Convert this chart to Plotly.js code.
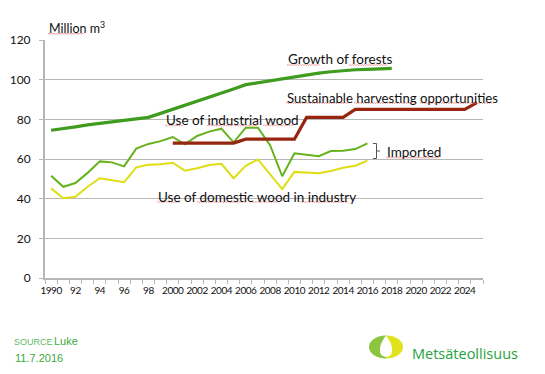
<!DOCTYPE html>
<html>
<head>
<meta charset="utf-8">
<script src="https://cdn.plot.ly/plotly-3.0.1.min.js"></script>
<style>html,body{margin:0;padding:0;background:#fff;}#chart{width:545px;height:374px;}
.xtick text{letter-spacing:-0.45px;}</style>
</head>
<body>
<div id="chart"></div>
<script>
// ---- data ----
const growthYears = [1990,1991,1992,1993,1994,1995,1996,1997,1998,1999,2000,2001,2002,2003,2004,2005,2006,2007,2008,2009,2010,2011,2012,2013,2014,2015,2016,2017,2018];
const growthOfForests = [74.5,75.2,76.2,77.2,78,78.6,79.2,80,81,83,85,87.2,89.2,91.2,93.2,95.3,97.5,98.5,99.3,100.3,101.3,102.3,103.3,104,104.6,105,105.2,105.6,105.7];

const useYears = [1990,1991,1992,1993,1994,1995,1996,1997,1998,1999,2000,2001,2002,2003,2004,2005,2006,2007,2008,2009,2010,2011,2012,2013,2014,2015,2016];
const industrialWood = [51.6,46,47.9,53,58.8,58.3,56.3,65.2,67.6,69,71.1,67.4,71.6,73.8,75.3,68.4,75.8,75.8,67,51.3,62.9,62,61.4,64,64.2,65,67.9];
const domesticWood = [45.2,40.2,41,46,50.3,49.3,48.3,55.8,57.1,57.3,58.1,54.1,55.3,57,57.6,50.3,56.6,59.8,52.3,44.8,53.5,53.2,52.8,54,55.6,56.6,59.2];

const harvestYears = [2000,2001,2002,2003,2004,2005,2006,2007,2008,2009,2010,2011,2012,2013,2014,2015,2016,2017,2018,2019,2020,2021,2022,2023,2024,2025];
const sustainableHarvest = [68,68,68,68,68,68,70,70,70,70,70,81,81,81,81,85,85,85,85,85,85,85,85,85,85,88.4];

const tickYears = [1990,1992,1994,1996,1998,2000,2002,2004,2006,2008,2010,2012,2014,2016,2018,2020,2022,2024];
const tickLabels = ['1990','92','94','96','98','2000','2002','2004','2006','2008','2010','2012','2014','2016','2018','2020','2022','2024'];

// ---- layout helpers (pixel -> paper for decorations) ----
const L = 45, R = 483, T = 40, B = 278;
const px = x => (x - L) / (R - L);
const py = y => (B - y) / (B - T);
function pathPx(cmds) {
  return cmds.map(c => c[0] + ' ' + c.slice(1).map((v,i) => i % 2 === 0 ? px(v).toFixed(5) : py(v).toFixed(5)).join(',')).join(' ');
}

const FONT = 'Lato, "Open Sans", sans-serif';

const traces = [
  {x: useYears, y: domesticWood, type: 'scatter', mode: 'lines', line: {color: '#dede12', width: 2}, hoverinfo: 'skip'},
  {x: useYears, y: industrialWood, type: 'scatter', mode: 'lines', line: {color: '#66b21c', width: 2}, hoverinfo: 'skip'},
  {x: growthYears, y: growthOfForests, type: 'scatter', mode: 'lines', line: {color: '#3f9c1f', width: 3.2}, hoverinfo: 'skip'},
  {x: harvestYears, y: sustainableHarvest, type: 'scatter', mode: 'lines', line: {color: '#962610', width: 3.2}, hoverinfo: 'skip'}
];

function ann(text, x, y, size, opts) {
  return Object.assign({text: text, x: px(x), y: py(y), xref: 'paper', yref: 'paper', showarrow: false,
    xanchor: 'left', yanchor: 'middle', font: {family: FONT, size: size, color: '#111'}}, opts || {});
}

const FOOT = '"Liberation Sans", Arial, sans-serif';
const annotations = [
  ann('Million m<sup>3</sup>', 47, 28, 12.5),
  ann('Growth of forests', 286, 59.3, 13.5),
  ann('Sustainable harvesting opportunities', 285, 97.7, 13.2),
  ann('Use of industrial wood', 164, 120, 13.5),
  ann('Imported', 385, 151.7, 13.5),
  ann('Use of domestic wood in industry', 156, 196.7, 13.5),
  ann('SOURCE', 12, 341.5, 9, {font: {family: FOOT, size: 9, color: '#62b962'}}),
  ann('Luke', 52, 341, 11, {font: {family: FOOT, size: 11, color: '#3aab3a'}}),
  ann('11.7.2016', 13, 358, 11, {font: {family: FOOT, size: 11, color: '#3aab3a'}}),
  ann('Metsäteollisuus', 410, 353, 14.5, {font: {family: '"Open Sans", sans-serif', size: 14.5, color: '#1ea33c'}})
];

// logo: green left crescent, yellow right crescent, white drop in middle
const cx = 386, cy = 347, rx = 17, ry = 11.5;
function ellipseHalf(side) {
  const pts = [];
  for (let i = 0; i <= 24; i++) {
    const a = -Math.PI / 2 + Math.PI * i / 24;
    pts.push([cx + side * rx * Math.cos(a), cy + ry * Math.sin(a)]);
  }
  return pathPx([['M', pts[0][0], pts[0][1]]].concat(pts.slice(1).map(p => ['L', p[0], p[1]])).concat([['Z']]));
}
const dropPath = pathPx([
  ['M', cx, cy - ry],
  ['C', cx + 5, cy - 5, cx + 7.5, cy + 2, cx + 5.5, cy + 6.5],
  ['C', cx + 3.5, cy + 11, cx - 3.5, cy + 11, cx - 5.5, cy + 6.5],
  ['C', cx - 7.5, cy + 2, cx - 5, cy - 5, cx, cy - ry],
  ['Z']
]);

// spell-check style wavy underlines: [x0, x1, y]
const squiggles = [
  [48, 85, 34],
  [287, 320, 65.3], [349, 388, 65.3],
  [286, 349, 103.3], [354, 417, 103.3], [420, 493, 103.3],
  [165, 183, 125.7], [207, 258, 125.7], [263, 293, 125.7],
  [386, 439, 158],
  [157, 180, 202.3], [197, 247, 202.3], [250, 278, 202.3], [300, 348, 202.3]
];
function zigzag(x0, x1, y) {
  const cmds = [['M', x0, y]];
  let up = true;
  for (let x = x0 + 1.2; x <= x1; x += 1.2) { cmds.push(['L', x, up ? y - 0.9 : y + 0.3]); up = !up; }
  return pathPx(cmds);
}

const shapes = [
  {type: 'path', xref: 'paper', yref: 'paper', path: ellipseHalf(-1), fillcolor: '#8cc63e', line: {width: 0}},
  {type: 'path', xref: 'paper', yref: 'paper', path: ellipseHalf(1), fillcolor: '#e0e31c', line: {width: 0}},
  {type: 'path', xref: 'paper', yref: 'paper', path: dropPath, fillcolor: '#ffffff', line: {width: 0}},
  {type: 'path', xref: 'paper', yref: 'paper',
   path: pathPx([['M', 373, 143.5], ['L', 376.5, 143.5], ['L', 376.5, 158.5], ['L', 373, 158.5], ['M', 376.5, 151], ['L', 380, 151]]),
   line: {color: '#555', width: 1}}
].concat(squiggles.map(s => ({type: 'path', xref: 'paper', yref: 'paper', path: zigzag(s[0], s[1], s[2]),
  line: {color: '#ec7f7a', width: 0.8}})));

const layout = {
  width: 545, height: 374,
  margin: {l: L, r: 545 - R, t: T, b: 374 - B, pad: 0},
  paper_bgcolor: '#fff', plot_bgcolor: '#fff',
  showlegend: false,
  xaxis: {
    range: [1989.5, 2025.5], showgrid: false, zeroline: false,
    showline: true, linecolor: '#b7b7b7', linewidth: 2,
    tickmode: 'array', tickvals: tickYears, ticktext: tickLabels, ticks: '',
    tickangle: 0, automargin: false,
    tickfont: {family: FONT, size: 10, color: '#111'}, ticklabelstandoff: 2,
    minor: {tickmode: 'linear', tick0: 1989.5, dtick: 1, ticks: 'outside', ticklen: 4, tickcolor: '#b7b7b7', tickwidth: 1, showgrid: false}
  },
  yaxis: {
    range: [0, 120], dtick: 20, showgrid: true, gridcolor: '#b7b7b7', gridwidth: 1, zeroline: false,
    showline: true, linecolor: '#b7b7b7', linewidth: 2,
    ticks: 'outside', ticklen: 4, tickcolor: '#b7b7b7', automargin: false,
    tickfont: {family: FONT, size: 12, color: '#111'}, ticklabelstandoff: 6
  },
  annotations: annotations,
  shapes: shapes
};

Plotly.newPlot('chart', traces, layout, {staticPlot: true, displayModeBar: false});
</script>
</body>
</html>
